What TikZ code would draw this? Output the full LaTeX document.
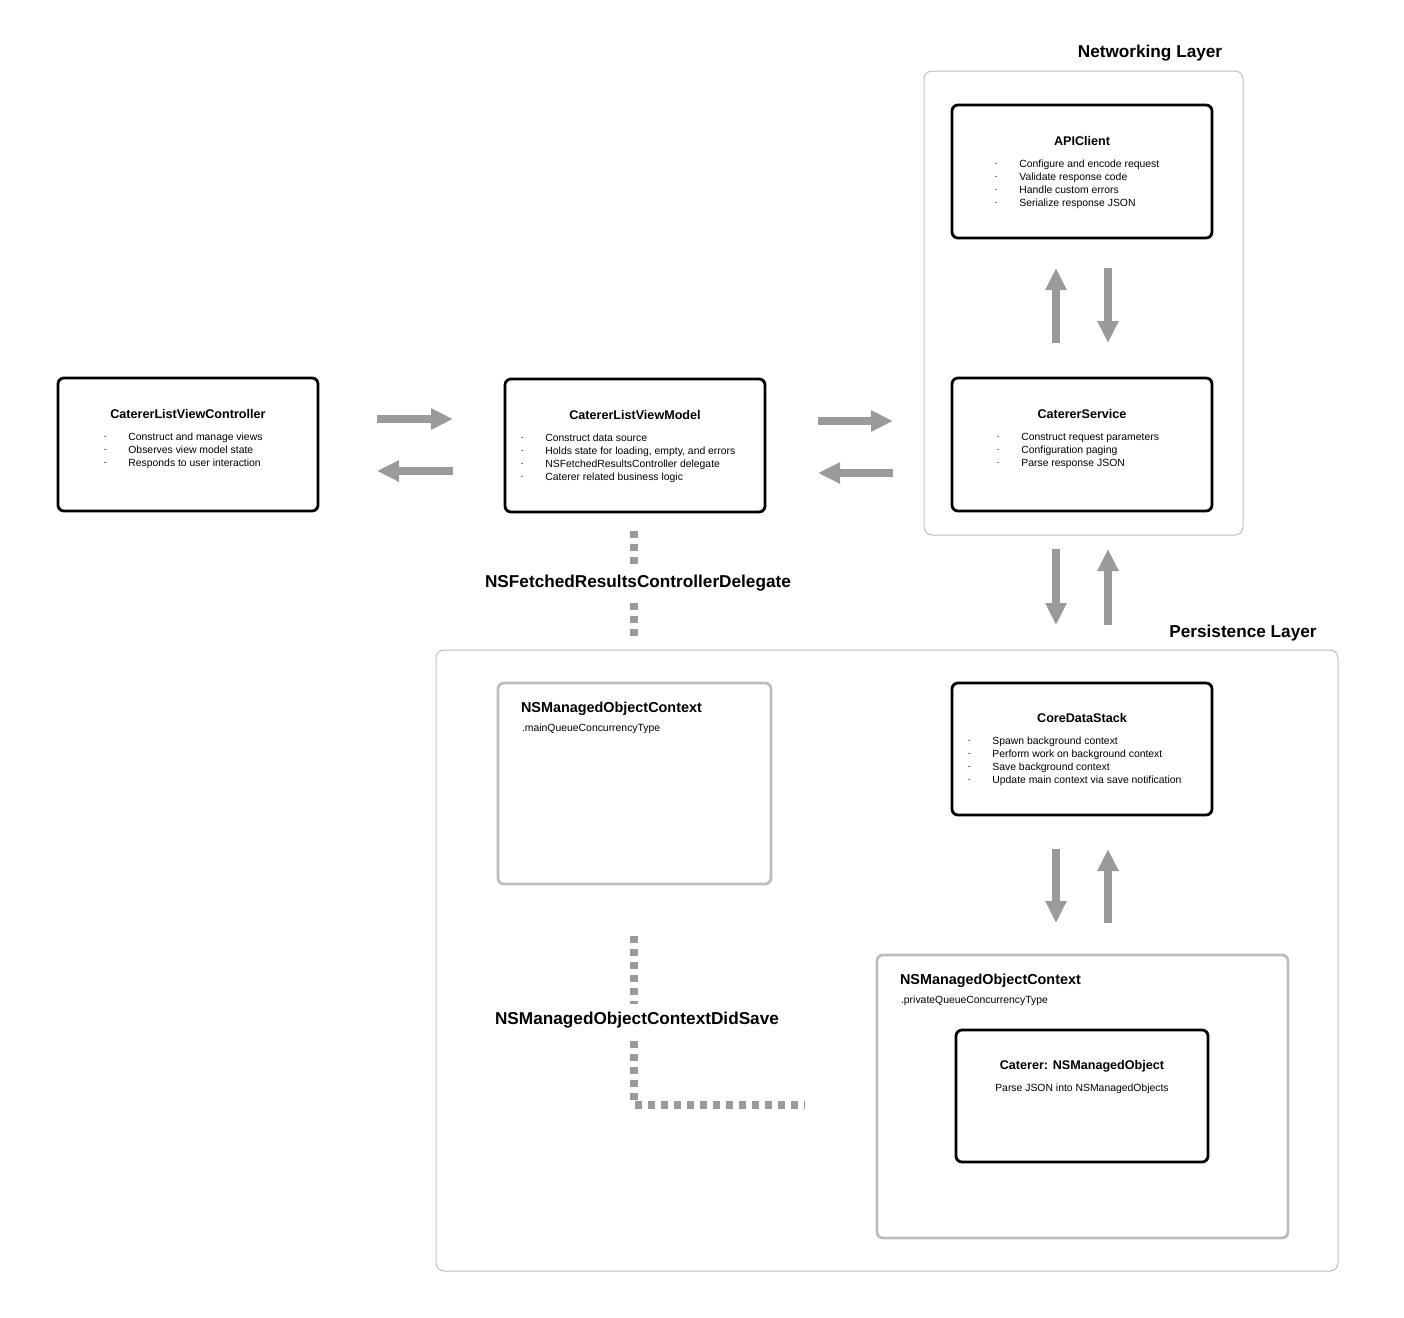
\documentclass[tikz,border=0pt]{standalone}
\usepackage{fontspec}
\setmainfont{Liberation Sans}
\usetikzlibrary{arrows.meta}
\definecolor{ag}{HTML}{9A9A9A}
\definecolor{lg}{HTML}{BDBDBD}
\newcommand{\bl}[1]{\fontsize{5.2}{6.5}\selectfont\begin{tabular}{@{}p{12pt}@{}l@{}}#1\end{tabular}}
\newcommand{\bu}{\raisebox{1pt}{\scalebox{0.45}{\textbullet}}}
\begin{document}
\begin{tikzpicture}[x=0.5pt,y=-0.5pt,
  blk/.style={draw=black,line width=1.4pt,rounded corners=3pt},
  gbx/.style={draw=lg,line width=1.4pt,rounded corners=3pt},
  lay/.style={draw=lg,line width=0.5pt,rounded corners=4pt},
  arr/.style={draw=ag,line width=3.6pt,-{Triangle[length=11pt,width=10pt]}},
  dot/.style={draw=ag,line width=3.6pt,dash pattern=on 3.5pt off 3pt},
  ttl/.style={font=\fontsize{6.3}{7}\selectfont\bfseries},
  big/.style={font=\fontsize{8.6}{10}\selectfont\bfseries},
  mid/.style={font=\fontsize{7.2}{8}\selectfont\bfseries},
  sub/.style={font=\fontsize{5.2}{6}\selectfont},
  lst/.style={anchor=north west,inner sep=0pt,align=left}]
\useasboundingbox (0,0) rectangle (1404,1318);
% layers
\draw[lay] (924,71) rectangle (1243,535);
\node[big] (nl) at (1150,53) {Networking Layer};
\draw[lay] (436,650) rectangle (1338,1271);
\node[big] (pl) at (1243,633) {Persistence Layer};
% boxes
\draw[blk] (58,378) rectangle (318,511);
\node[ttl] (t1) at (188,414) {CatererListViewController};
\node[lst] (l1) at (104,431) {\bl{\bu&Construct and manage views\\\bu&Observes view model state\\\bu&Responds to user interaction}};
\draw[blk] (505,379) rectangle (765,512);
\node[ttl] (t2) at (635,415) {CatererListViewModel};
\node[lst] (l2) at (521,432) {\bl{\bu&Construct data source\\\bu&Holds state for loading, empty, and errors\\\bu&NSFetchedResultsController delegate\\\bu&Caterer related business logic}};
\draw[blk] (952,105) rectangle (1212,238);
\node[ttl] (t3) at (1082,141) {APIClient};
\node[lst] (l3) at (995,158) {\bl{\bu&Configure and encode request\\\bu&Validate response code\\\bu&Handle custom errors\\\bu&Serialize response JSON}};
\draw[blk] (952,378) rectangle (1212,511);
\node[ttl] (t4) at (1082,414) {CatererService};
\node[lst] (l4) at (997,431) {\bl{\bu&Construct request parameters\\\bu&Configuration paging\\\bu&Parse response JSON}};
\draw[gbx] (498,683) rectangle (771,884);
\node[mid,anchor=west] (t5) at (514,709) {NSManagedObjectContext};
\node[sub,anchor=west] (s5) at (515,729) {.mainQueueConcurrencyType};
\draw[blk] (952,683) rectangle (1212,815);
\node[ttl] (t6) at (1082,718) {CoreDataStack};
\node[lst] (l6) at (968,735) {\bl{\bu&Spawn background context\\\bu&Perform work on background context\\\bu&Save background context\\\bu&Update main context via save notification}};
\draw[gbx] (877,955) rectangle (1288,1238);
\node[mid,anchor=west] (t7) at (893,981) {NSManagedObjectContext};
\node[sub,anchor=west] (s7) at (894,1001) {.privateQueueConcurrencyType};
\draw[blk] (956,1030) rectangle (1208,1162);
\node[ttl] (t8) at (1082,1066) {Caterer: NSManagedObject};
\node[sub] (s8) at (1082,1089) {Parse JSON into NSManagedObjects};
% arrows
\coordinate (a1) at (377,419); \coordinate (a2) at (453,419);
\draw[arr] (a1) -- (a2);
\coordinate (a3) at (453,471); \coordinate (a4) at (377,471);
\draw[arr] (a3) -- (a4);
\coordinate (b1) at (818,421); \coordinate (b2) at (893,421);
\draw[arr] (b1) -- (b2);
\coordinate (b3) at (893,473); \coordinate (b4) at (818,473);
\draw[arr] (b3) -- (b4);
\coordinate (c1) at (1056,343); \coordinate (c2) at (1056,268);
\draw[arr] (c1) -- (c2);
\coordinate (c3) at (1108,268); \coordinate (c4) at (1108,343);
\draw[arr] (c3) -- (c4);
\coordinate (d1) at (1056,549); \coordinate (d2) at (1056,625);
\draw[arr] (d1) -- (d2);
\coordinate (d3) at (1108,625); \coordinate (d4) at (1108,549);
\draw[arr] (d3) -- (d4);
\coordinate (e1) at (1056,849); \coordinate (e2) at (1056,923);
\draw[arr] (e1) -- (e2);
\coordinate (e3) at (1108,923); \coordinate (e4) at (1108,849);
\draw[arr] (e3) -- (e4);
% dotted
\node[big] (fl) at (638,583) {NSFetchedResultsControllerDelegate};
\coordinate (f1) at (634,531); \coordinate (f2) at (634,568);
\coordinate (f3) at (634,603); \coordinate (f4) at (634,640);
\draw[dot] (f1) -- (f2); \draw[dot] (f3) -- (f4);
\node[big] (gl) at (637,1020) {NSManagedObjectContextDidSave};
\coordinate (g1) at (634,936); \coordinate (g2) at (634,1004);
\coordinate (g3) at (634,1041); \coordinate (g4) at (634,1105); \coordinate (g5) at (805,1105);
\draw[dot] (g1) -- (g2); \draw[dot] (g3) -- (g4) -- (g5);
\end{tikzpicture}
\end{document}
